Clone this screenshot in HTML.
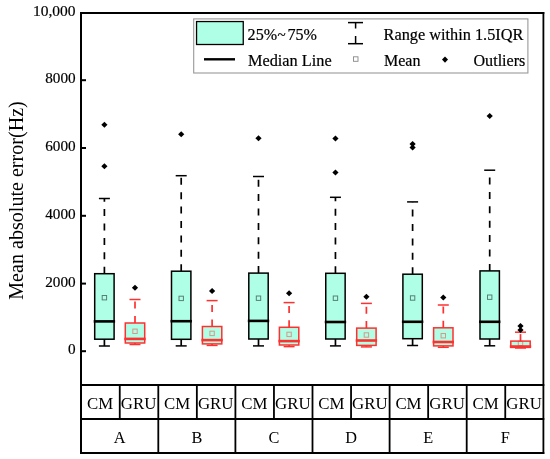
<!DOCTYPE html>
<html><head><meta charset="utf-8"><style>
html,body{margin:0;padding:0;background:#fff;width:550px;height:459px;overflow:hidden}
svg{display:block}
text{font-family:'Liberation Serif', 'DejaVu Serif', serif;fill:#000}
.hv{stroke:#000;stroke-width:0.2px}
</style></head><body>
<svg width="550" height="459" viewBox="0 0 550 459" font-size="15.2">
<text transform="translate(23.2,200.5) rotate(-90)" text-anchor="middle" font-size="20.1">Mean absolute error(Hz)</text>
<rect x="82" y="350.2" width="4" height="2" fill="#000"/><text class="hv" x="75.6" y="354.4" text-anchor="end">0</text><rect x="82" y="282.6" width="4" height="2" fill="#000"/><text class="hv" x="75.6" y="286.8" text-anchor="end">2000</text><rect x="82" y="214.8" width="4" height="2" fill="#000"/><text class="hv" x="75.6" y="219.0" text-anchor="end">4000</text><rect x="82" y="147.0" width="4" height="2" fill="#000"/><text class="hv" x="75.6" y="151.2" text-anchor="end">6000</text><rect x="82" y="79.2" width="4" height="2" fill="#000"/><text class="hv" x="75.6" y="83.4" text-anchor="end">8000</text><text class="hv" x="32.9" y="15.5" textLength="42.6" lengthAdjust="spacingAndGlyphs">10,000</text>
<line x1="104.4" y1="273.7" x2="104.4" y2="198.5" stroke="#000" stroke-width="1.7" stroke-dasharray="7 7.4"/>
<line x1="98.9" y1="198.5" x2="109.9" y2="198.5" stroke="#000" stroke-width="1.5"/>
<line x1="104.4" y1="339.2" x2="104.4" y2="346.0" stroke="#000" stroke-width="1.7"/>
<line x1="98.9" y1="346.0" x2="109.9" y2="346.0" stroke="#000" stroke-width="1.5"/>
<rect x="94.7" y="273.7" width="19.4" height="65.5" fill="#afffe6" stroke="#000" stroke-width="1.5"/>
<line x1="93.7" y1="321.4" x2="115.10000000000001" y2="321.4" stroke="#000" stroke-width="2.6"/>
<rect x="102.2" y="295.5" width="4.4" height="4.4" fill="none" stroke="#000" stroke-opacity="0.5" stroke-width="1"/>
<path d="M104.4 121.7L107.5 124.7L104.4 127.7L101.30000000000001 124.7Z" fill="#000"/>
<path d="M104.4 163.3L107.5 166.3L104.4 169.3L101.30000000000001 166.3Z" fill="#000"/>
<line x1="181.2" y1="271.2" x2="181.2" y2="175.7" stroke="#000" stroke-width="1.7" stroke-dasharray="7 7.4"/>
<line x1="175.7" y1="175.7" x2="186.7" y2="175.7" stroke="#000" stroke-width="1.5"/>
<line x1="181.2" y1="339.3" x2="181.2" y2="345.9" stroke="#000" stroke-width="1.7"/>
<line x1="175.7" y1="345.9" x2="186.7" y2="345.9" stroke="#000" stroke-width="1.5"/>
<rect x="171.5" y="271.2" width="19.4" height="68.10000000000002" fill="#afffe6" stroke="#000" stroke-width="1.5"/>
<line x1="170.5" y1="321.2" x2="191.89999999999998" y2="321.2" stroke="#000" stroke-width="2.6"/>
<rect x="179.0" y="296.2" width="4.4" height="4.4" fill="none" stroke="#000" stroke-opacity="0.5" stroke-width="1"/>
<path d="M181.2 131.3L184.29999999999998 134.3L181.2 137.3L178.1 134.3Z" fill="#000"/>
<line x1="258.5" y1="273.1" x2="258.5" y2="176.5" stroke="#000" stroke-width="1.7" stroke-dasharray="7 7.4"/>
<line x1="253.0" y1="176.5" x2="264.0" y2="176.5" stroke="#000" stroke-width="1.5"/>
<line x1="258.5" y1="339.0" x2="258.5" y2="345.9" stroke="#000" stroke-width="1.7"/>
<line x1="253.0" y1="345.9" x2="264.0" y2="345.9" stroke="#000" stroke-width="1.5"/>
<rect x="248.8" y="273.1" width="19.4" height="65.89999999999998" fill="#afffe6" stroke="#000" stroke-width="1.5"/>
<line x1="247.8" y1="320.9" x2="269.2" y2="320.9" stroke="#000" stroke-width="2.6"/>
<rect x="256.3" y="296.0" width="4.4" height="4.4" fill="none" stroke="#000" stroke-opacity="0.5" stroke-width="1"/>
<path d="M258.5 135.3L261.6 138.3L258.5 141.3L255.4 138.3Z" fill="#000"/>
<line x1="335.45" y1="273.3" x2="335.45" y2="197.3" stroke="#000" stroke-width="1.7" stroke-dasharray="7 7.4"/>
<line x1="329.95" y1="197.3" x2="340.95" y2="197.3" stroke="#000" stroke-width="1.5"/>
<line x1="335.45" y1="339.0" x2="335.45" y2="345.9" stroke="#000" stroke-width="1.7"/>
<line x1="329.95" y1="345.9" x2="340.95" y2="345.9" stroke="#000" stroke-width="1.5"/>
<rect x="325.75" y="273.3" width="19.4" height="65.69999999999999" fill="#afffe6" stroke="#000" stroke-width="1.5"/>
<line x1="324.75" y1="322.0" x2="346.15" y2="322.0" stroke="#000" stroke-width="2.6"/>
<rect x="333.25" y="296.0" width="4.4" height="4.4" fill="none" stroke="#000" stroke-opacity="0.5" stroke-width="1"/>
<path d="M335.45 135.6L338.55 138.6L335.45 141.6L332.34999999999997 138.6Z" fill="#000"/>
<path d="M335.45 169.5L338.55 172.5L335.45 175.5L332.34999999999997 172.5Z" fill="#000"/>
<line x1="412.6" y1="274.2" x2="412.6" y2="201.9" stroke="#000" stroke-width="1.7" stroke-dasharray="7 7.4"/>
<line x1="407.1" y1="201.9" x2="418.1" y2="201.9" stroke="#000" stroke-width="1.5"/>
<line x1="412.6" y1="338.7" x2="412.6" y2="345.5" stroke="#000" stroke-width="1.7"/>
<line x1="407.1" y1="345.5" x2="418.1" y2="345.5" stroke="#000" stroke-width="1.5"/>
<rect x="402.90000000000003" y="274.2" width="19.4" height="64.5" fill="#afffe6" stroke="#000" stroke-width="1.5"/>
<line x1="401.90000000000003" y1="321.8" x2="423.3" y2="321.8" stroke="#000" stroke-width="2.6"/>
<rect x="410.40000000000003" y="295.8" width="4.4" height="4.4" fill="none" stroke="#000" stroke-opacity="0.5" stroke-width="1"/>
<path d="M412.6 141.0L415.70000000000005 144.0L412.6 147.0L409.5 144.0Z" fill="#000"/>
<path d="M412.6 144.5L415.70000000000005 147.5L412.6 150.5L409.5 147.5Z" fill="#000"/>
<line x1="489.7" y1="270.9" x2="489.7" y2="170.2" stroke="#000" stroke-width="1.7" stroke-dasharray="7 7.4"/>
<line x1="484.2" y1="170.2" x2="495.2" y2="170.2" stroke="#000" stroke-width="1.5"/>
<line x1="489.7" y1="339.0" x2="489.7" y2="345.8" stroke="#000" stroke-width="1.7"/>
<line x1="484.2" y1="345.8" x2="495.2" y2="345.8" stroke="#000" stroke-width="1.5"/>
<rect x="480.0" y="270.9" width="19.4" height="68.10000000000002" fill="#afffe6" stroke="#000" stroke-width="1.5"/>
<line x1="479.0" y1="321.8" x2="500.4" y2="321.8" stroke="#000" stroke-width="2.6"/>
<rect x="487.5" y="295.0" width="4.4" height="4.4" fill="none" stroke="#000" stroke-opacity="0.5" stroke-width="1"/>
<path d="M489.7 113.0L492.8 116.0L489.7 119.0L486.59999999999997 116.0Z" fill="#000"/>
<line x1="135.0" y1="323.0" x2="135.0" y2="299.5" stroke="#ff3030" stroke-width="1.7" stroke-dasharray="7 7.4"/>
<line x1="129.5" y1="299.5" x2="140.5" y2="299.5" stroke="#ff3030" stroke-width="1.5"/>
<line x1="135.0" y1="343.0" x2="135.0" y2="344.5" stroke="#ff3030" stroke-width="1.7"/>
<line x1="129.5" y1="344.5" x2="140.5" y2="344.5" stroke="#ff3030" stroke-width="1.5"/>
<rect x="125.3" y="323.0" width="19.4" height="20.0" fill="#afffe6" stroke="#ff3030" stroke-width="1.5"/>
<line x1="124.3" y1="338.9" x2="145.7" y2="338.9" stroke="#ff3030" stroke-width="2.6"/>
<rect x="132.8" y="329.1" width="4.4" height="4.4" fill="none" stroke="#ff3030" stroke-opacity="0.5" stroke-width="1"/>
<path d="M135.0 284.8L138.1 287.8L135.0 290.8L131.9 287.8Z" fill="#000"/>
<line x1="212.1" y1="326.5" x2="212.1" y2="300.6" stroke="#ff3030" stroke-width="1.7" stroke-dasharray="7 7.4"/>
<line x1="206.6" y1="300.6" x2="217.6" y2="300.6" stroke="#ff3030" stroke-width="1.5"/>
<line x1="212.1" y1="343.9" x2="212.1" y2="345.4" stroke="#ff3030" stroke-width="1.7"/>
<line x1="206.6" y1="345.4" x2="217.6" y2="345.4" stroke="#ff3030" stroke-width="1.5"/>
<rect x="202.4" y="326.5" width="19.4" height="17.399999999999977" fill="#afffe6" stroke="#ff3030" stroke-width="1.5"/>
<line x1="201.4" y1="340.1" x2="222.79999999999998" y2="340.1" stroke="#ff3030" stroke-width="2.6"/>
<rect x="209.9" y="331.2" width="4.4" height="4.4" fill="none" stroke="#ff3030" stroke-opacity="0.5" stroke-width="1"/>
<path d="M212.1 288.0L215.2 291.0L212.1 294.0L209.0 291.0Z" fill="#000"/>
<line x1="289.1" y1="327.3" x2="289.1" y2="302.6" stroke="#ff3030" stroke-width="1.7" stroke-dasharray="7 7.4"/>
<line x1="283.6" y1="302.6" x2="294.6" y2="302.6" stroke="#ff3030" stroke-width="1.5"/>
<line x1="289.1" y1="345.0" x2="289.1" y2="346.6" stroke="#ff3030" stroke-width="1.7"/>
<line x1="283.6" y1="346.6" x2="294.6" y2="346.6" stroke="#ff3030" stroke-width="1.5"/>
<rect x="279.40000000000003" y="327.3" width="19.4" height="17.69999999999999" fill="#afffe6" stroke="#ff3030" stroke-width="1.5"/>
<line x1="278.40000000000003" y1="341.1" x2="299.8" y2="341.1" stroke="#ff3030" stroke-width="2.6"/>
<rect x="286.90000000000003" y="332.2" width="4.4" height="4.4" fill="none" stroke="#ff3030" stroke-opacity="0.5" stroke-width="1"/>
<path d="M289.1 290.2L292.20000000000005 293.2L289.1 296.2L286.0 293.2Z" fill="#000"/>
<line x1="366.4" y1="328.1" x2="366.4" y2="303.4" stroke="#ff3030" stroke-width="1.7" stroke-dasharray="7 7.4"/>
<line x1="360.9" y1="303.4" x2="371.9" y2="303.4" stroke="#ff3030" stroke-width="1.5"/>
<line x1="366.4" y1="345.4" x2="366.4" y2="346.9" stroke="#ff3030" stroke-width="1.7"/>
<line x1="360.9" y1="346.9" x2="371.9" y2="346.9" stroke="#ff3030" stroke-width="1.5"/>
<rect x="356.7" y="328.1" width="19.4" height="17.299999999999955" fill="#afffe6" stroke="#ff3030" stroke-width="1.5"/>
<line x1="355.7" y1="340.5" x2="377.09999999999997" y2="340.5" stroke="#ff3030" stroke-width="2.6"/>
<rect x="364.2" y="332.8" width="4.4" height="4.4" fill="none" stroke="#ff3030" stroke-opacity="0.5" stroke-width="1"/>
<path d="M366.4 293.8L369.5 296.8L366.4 299.8L363.29999999999995 296.8Z" fill="#000"/>
<line x1="443.3" y1="327.8" x2="443.3" y2="305.0" stroke="#ff3030" stroke-width="1.7" stroke-dasharray="7 7.4"/>
<line x1="437.8" y1="305.0" x2="448.8" y2="305.0" stroke="#ff3030" stroke-width="1.5"/>
<line x1="443.3" y1="345.9" x2="443.3" y2="347.3" stroke="#ff3030" stroke-width="1.7"/>
<line x1="437.8" y1="347.3" x2="448.8" y2="347.3" stroke="#ff3030" stroke-width="1.5"/>
<rect x="433.6" y="327.8" width="19.4" height="18.099999999999966" fill="#afffe6" stroke="#ff3030" stroke-width="1.5"/>
<line x1="432.6" y1="342.0" x2="454.0" y2="342.0" stroke="#ff3030" stroke-width="2.6"/>
<rect x="441.1" y="333.5" width="4.4" height="4.4" fill="none" stroke="#ff3030" stroke-opacity="0.5" stroke-width="1"/>
<path d="M443.3 294.5L446.40000000000003 297.5L443.3 300.5L440.2 297.5Z" fill="#000"/>
<line x1="520.5" y1="341.1" x2="520.5" y2="332.2" stroke="#ff3030" stroke-width="1.7" stroke-dasharray="7 7.4"/>
<line x1="515.0" y1="332.2" x2="526.0" y2="332.2" stroke="#ff3030" stroke-width="1.5"/>
<line x1="520.5" y1="347.4" x2="520.5" y2="348.0" stroke="#ff3030" stroke-width="1.7"/>
<line x1="515.0" y1="348.0" x2="526.0" y2="348.0" stroke="#ff3030" stroke-width="1.5"/>
<rect x="510.8" y="341.1" width="19.4" height="6.2999999999999545" fill="#afffe6" stroke="#ff3030" stroke-width="1.5"/>
<line x1="509.8" y1="346.5" x2="531.2" y2="346.5" stroke="#ff3030" stroke-width="2.6"/>
<rect x="518.3" y="341.2" width="4.4" height="4.4" fill="none" stroke="#ff3030" stroke-opacity="0.5" stroke-width="1"/>
<path d="M520.5 322.9L523.6 325.9L520.5 328.9L517.4 325.9Z" fill="#000"/>
<path d="M520.5 326.9L523.6 329.9L520.5 332.9L517.4 329.9Z" fill="#000"/>

<rect x="193.7" y="18.9" width="334.2" height="54.1" fill="#fff" stroke="#999" stroke-width="1.1"/>
<rect x="196.55" y="21.55" width="46.7" height="22.95" fill="#afffe6" stroke="#000" stroke-width="1.3"/>
<text class="hv" x="247.6" y="39.5" font-size="16.1">25%</text><text class="hv" x="277.4" y="39.5" font-size="15">~</text><text class="hv" x="287.4" y="39.5" font-size="16.1">75%</text>
<line x1="348" y1="22.6" x2="363" y2="22.6" stroke="#000" stroke-width="1.5"/>
<line x1="355.6" y1="22.6" x2="355.6" y2="28.5" stroke="#000" stroke-width="1.5"/>
<line x1="355.6" y1="36" x2="355.6" y2="43.7" stroke="#000" stroke-width="1.5"/>
<line x1="348" y1="43.7" x2="363" y2="43.7" stroke="#000" stroke-width="1.5"/>
<text class="hv" x="383.6" y="39.5" font-size="16.3">Range within 1.5IQR</text>
<line x1="204" y1="59.3" x2="235" y2="59.3" stroke="#000" stroke-width="2.4"/>
<text class="hv" x="248" y="66.2" font-size="16.3">Median Line</text>
<rect x="353.5" y="56.8" width="4.5" height="4.5" fill="none" stroke="#888" stroke-width="0.9"/>
<text class="hv" x="384" y="66" font-size="16">Mean</text>
<path d="M445 56.4L448 59.6L445 62.8L442 59.6Z" fill="#000"/>
<text class="hv" x="473.5" y="66" font-size="16.1">Outliers</text>


<rect x="80" y="12" width="464.3" height="2" fill="#000"/>
<rect x="80" y="12" width="2" height="442" fill="#000"/>
<rect x="542.5" y="12" width="1.8" height="442" fill="#000"/>
<rect x="80" y="384" width="464.3" height="2" fill="#000"/>
<rect x="80" y="418" width="464.3" height="2" fill="#000"/>
<rect x="80" y="452" width="464.3" height="2" fill="#000"/>

<rect x="118.85" y="385" width="1.8" height="34" fill="#000"/><rect x="157.4" y="385" width="1.8" height="34" fill="#000"/><rect x="195.95" y="385" width="1.8" height="34" fill="#000"/><rect x="234.49999999999997" y="385" width="1.8" height="34" fill="#000"/><rect x="273.05" y="385" width="1.8" height="34" fill="#000"/><rect x="311.6" y="385" width="1.8" height="34" fill="#000"/><rect x="350.15" y="385" width="1.8" height="34" fill="#000"/><rect x="388.7" y="385" width="1.8" height="34" fill="#000"/><rect x="427.25" y="385" width="1.8" height="34" fill="#000"/><rect x="465.8" y="385" width="1.8" height="34" fill="#000"/><rect x="504.34999999999997" y="385" width="1.8" height="34" fill="#000"/><rect x="157.4" y="419" width="1.8" height="34" fill="#000"/><rect x="234.49999999999997" y="419" width="1.8" height="34" fill="#000"/><rect x="311.6" y="419" width="1.8" height="34" fill="#000"/><rect x="388.7" y="419" width="1.8" height="34" fill="#000"/><rect x="465.8" y="419" width="1.8" height="34" fill="#000"/><text x="86.97" y="408.9" font-size="16.9" textLength="26.2" lengthAdjust="spacingAndGlyphs">CM</text><text x="120.83" y="408.9" font-size="16.9" textLength="35.6" lengthAdjust="spacingAndGlyphs">GRU</text><text x="164.07" y="408.9" font-size="16.9" textLength="26.2" lengthAdjust="spacingAndGlyphs">CM</text><text x="197.92" y="408.9" font-size="16.9" textLength="35.6" lengthAdjust="spacingAndGlyphs">GRU</text><text x="241.17" y="408.9" font-size="16.9" textLength="26.2" lengthAdjust="spacingAndGlyphs">CM</text><text x="275.03" y="408.9" font-size="16.9" textLength="35.6" lengthAdjust="spacingAndGlyphs">GRU</text><text x="318.27" y="408.9" font-size="16.9" textLength="26.2" lengthAdjust="spacingAndGlyphs">CM</text><text x="352.12" y="408.9" font-size="16.9" textLength="35.6" lengthAdjust="spacingAndGlyphs">GRU</text><text x="395.38" y="408.9" font-size="16.9" textLength="26.2" lengthAdjust="spacingAndGlyphs">CM</text><text x="429.22" y="408.9" font-size="16.9" textLength="35.6" lengthAdjust="spacingAndGlyphs">GRU</text><text x="472.47" y="408.9" font-size="16.9" textLength="26.2" lengthAdjust="spacingAndGlyphs">CM</text><text x="506.32" y="408.9" font-size="16.9" textLength="35.6" lengthAdjust="spacingAndGlyphs">GRU</text><text x="119.75" y="443.2" text-anchor="middle" font-size="16.3">A</text><text x="196.85" y="443.2" text-anchor="middle" font-size="16.3">B</text><text x="273.95" y="443.2" text-anchor="middle" font-size="16.3">C</text><text x="351.04999999999995" y="443.2" text-anchor="middle" font-size="16.3">D</text><text x="428.15" y="443.2" text-anchor="middle" font-size="16.3">E</text><text x="505.25" y="443.2" text-anchor="middle" font-size="16.3">F</text>
</svg>
</body></html>
